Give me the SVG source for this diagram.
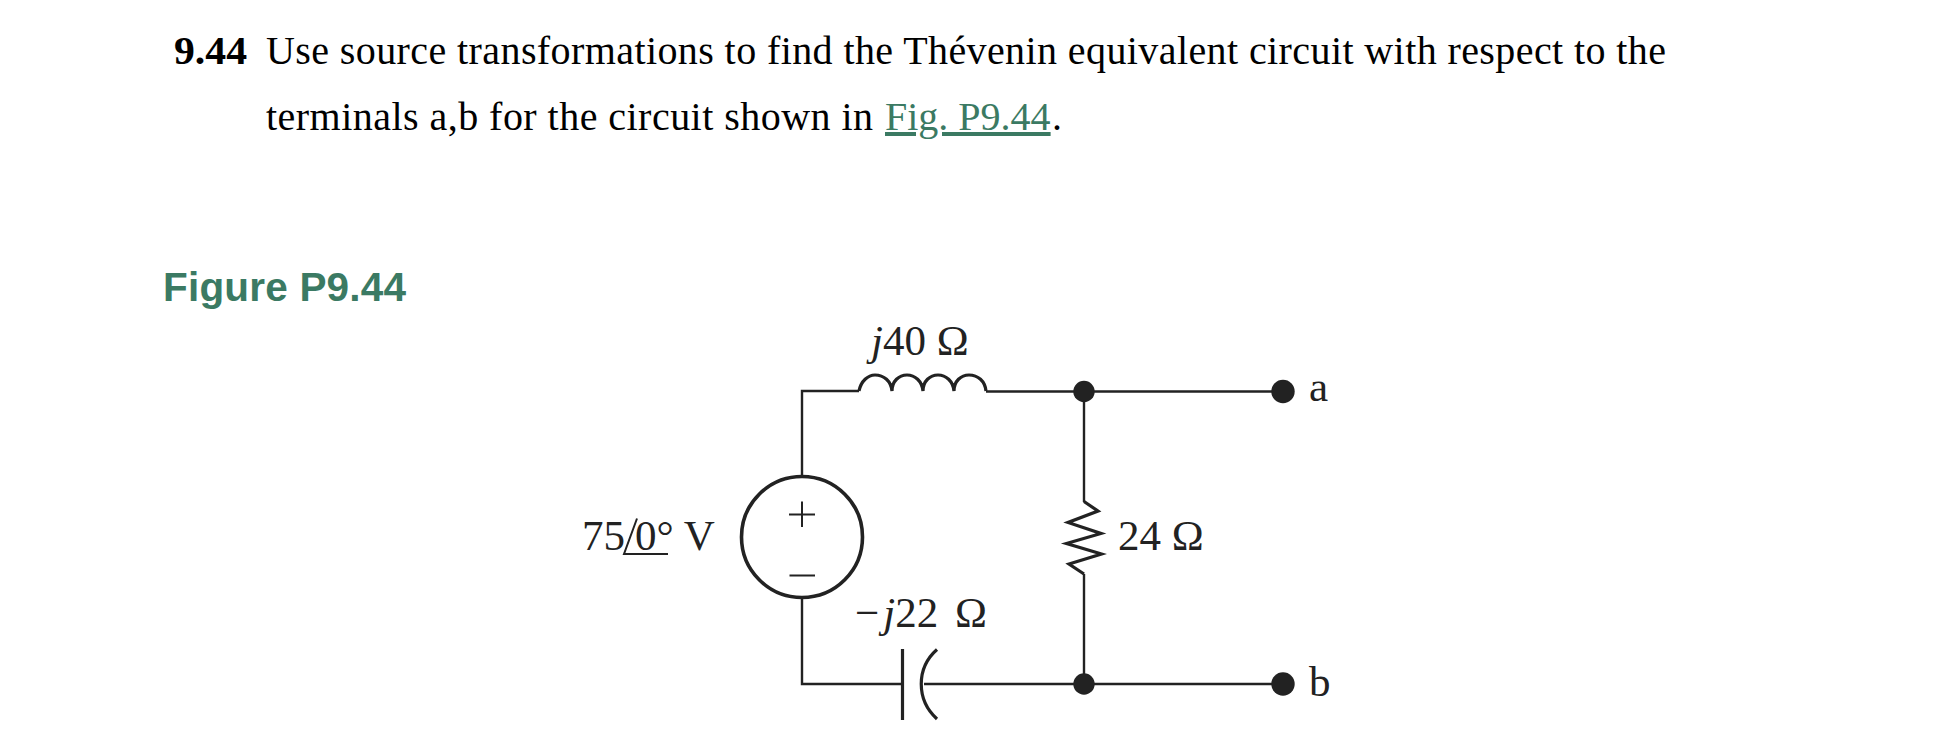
<svg xmlns="http://www.w3.org/2000/svg" width="1935" height="739" viewBox="0 0 1935 739">
<style>
.body{font-family:"Liberation Serif",serif;font-size:40px;fill:#000}
.link{fill:#3b7a63;text-decoration:underline;text-decoration-thickness:2.5px;text-underline-offset:3px}
.fig{font-family:"Liberation Sans",Arial,sans-serif;font-weight:bold;font-size:40.500px;fill:#3b7a63}
.lab{font-family:"Liberation Serif",serif;font-size:43px;fill:#222}
.w{fill:none;stroke:#222;stroke-width:2.400}
.t{fill:none;stroke:#222;stroke-width:3.200}
.thin{fill:none;stroke:#222;stroke-width:2}
.dot{fill:#222}
</style>
<rect width="1935" height="739" fill="#fff"/>
<g id="problem-text">
<text class="body" x="174" y="64" font-weight="bold" textLength="73" lengthAdjust="spacingAndGlyphs">9.44</text>
<text class="body" x="266" y="64" textLength="1400" lengthAdjust="spacing">Use source transformations to find the Thévenin equivalent circuit with respect to the</text>
<text class="body" x="266" y="130" textLength="607" lengthAdjust="spacing">terminals a,b for the circuit shown in</text>
<text class="body link" x="885" y="130">Fig. P9.44</text>
<text class="body" x="1052" y="130">.</text>
<text class="fig" x="163" y="301" textLength="243" lengthAdjust="spacing">Figure P9.44</text>
</g>
<g id="connectors">
<path class="w" d="M859 391H802V476"/>
<path class="w" d="M802 598V684H902"/>
<path class="w" d="M924 684H1084"/>
<path class="w" d="M986 391.500H1283"/>
<path class="w" d="M1084 684H1283"/>
<path class="w" d="M1084 391V502"/>
<path class="w" d="M1084 574V684"/>
</g>
<g id="inductor">
<path class="t" d="M859 391C861 381 868 375 875 375C884 375 891 381 892 391C892 381 899 375 907 375C915 375 922 381 923 391C923 381 930 375 938 375C946 375 953 381 954 391C954 381 961 375 969 375C978 375 985 381 986 391"/>
<text class="lab" x="871" y="355"><tspan font-style="italic">j</tspan>40 Ω</text>
</g>
<g id="source">
<circle cx="802" cy="537" r="60.500" fill="#fff" stroke="#222" stroke-width="3.600"/>
<path class="thin" d="M789 514.500H815M802 501.500V527M789.500 575.500H815"/>
<text class="lab" x="582" y="550">75<tspan dx="10">0°</tspan><tspan dx="10">V</tspan></text>
<path class="thin" d="M637 518.500L624 554H668"/>
</g>
<g id="capacitor">
<path class="t" d="M902.500 649V720"/>
<path class="t" d="M937 649.500C916 668 916 700 937 719"/>
<text class="lab" x="855" y="627">−<tspan font-style="italic" dx="4">j</tspan>22<tspan dx="6"> Ω</tspan></text>
</g>
<g id="resistor">
<path class="t" d="M1084 501.500L1098 511L1068 522.500L1101 533.500L1066.500 543.500L1101.500 554L1069 564L1084 574"/>
<text class="lab" x="1118" y="550">24 Ω</text>
</g>
<g id="node-top"><circle class="dot" cx="1084" cy="391.500" r="10.700"/></g>
<g id="node-bottom"><circle class="dot" cx="1084" cy="684" r="10.700"/></g>
<g id="terminal-a"><circle class="dot" cx="1283" cy="391.500" r="11.700"/><text class="lab" x="1309" y="401">a</text></g>
<g id="terminal-b"><circle class="dot" cx="1283" cy="684" r="11.700"/><text class="lab" x="1309" y="696">b</text></g>
</svg>
